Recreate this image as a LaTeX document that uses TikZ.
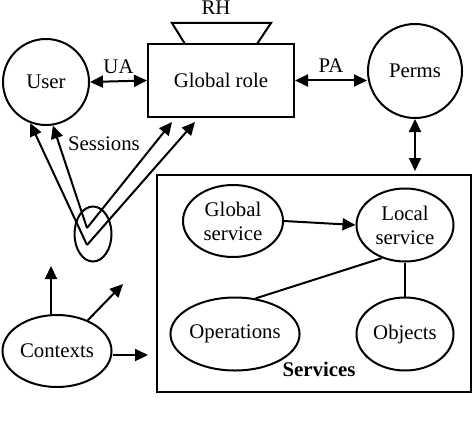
\documentclass[tikz,border=0pt]{standalone}
\usepackage{fontspec}
\setmainfont{Liberation Serif}
\usetikzlibrary{arrows.meta,shapes.geometric}

\begin{document}
\begin{tikzpicture}[x=0.5pt,y=-0.5pt,line width=1pt,
  font=\fontsize{10.4}{12}\selectfont,
  arr/.style={-{Triangle[length=6.5pt,width=6pt]}},
  darr/.style={{Triangle[length=6.5pt,width=6pt]}-{Triangle[length=6.5pt,width=6pt]}},
  oval/.style={draw,ellipse,inner sep=0pt,align=center}]
\useasboundingbox (0,0) rectangle (474,422);

\def\ya{82}
\def\yb{223}
\def\yc{334}
\def\xl{405}

% top row
\node[draw,circle,minimum size=43pt,inner sep=0pt] (user) at (46,\ya) {User};
\node[draw,minimum width=73pt,minimum height=36.5pt] (grole) at (221,80.5) {Global role};
\node[draw,circle,minimum size=47pt,inner sep=0pt] (perms) at (415,71) {Perms};
\draw (185,44) -- (172,23) -- (271,23) -- (257,44);
\node [above] at (216,22) {RH};
\draw[darr] (user.east) -- node[above] {UA} (grole.west);
\draw[darr] (grole.east) -- node[above] {PA} (grole.east -| perms.west);

% services
\node[draw,minimum width=157pt,minimum height=108.5pt] (box) at (314,283.5) {};
\node[oval,minimum width=50pt,minimum height=36pt] (gserv) at (233,221) {Global\\service};
\node[oval,minimum width=48.5pt,minimum height=36.5pt] (lserv) at (\xl,225) {Local\\service};
\node[oval,minimum width=61.5pt,minimum height=36.5pt] (ops) at (235,\yc) {Operations};
\node[oval,minimum width=48.5pt,minimum height=36.5pt] (objs) at (\xl,\yc) {Objects};
\node at (319,369) {\bfseries Services};
\draw[arr] (gserv.east) -- (lserv.west);
\draw (lserv.235) -- (ops.60);
\draw (lserv.south) -- (objs.north);
\draw[darr] (perms.south) -- ([yshift=1.5pt]perms.south |- box.north);

% sessions
\node[oval,minimum width=18.5pt,minimum height=27.5pt] (sess) at (93,234) {};
\coordinate (va) at (87,228);
\coordinate (vb) at (87,245);
\coordinate (ga) at (172,122);
\coordinate (gb) at (195,122);
\draw[arr] (va) -- (user.279);
\draw[arr] (vb) -- (user.249);
\draw[arr] (va) -- (ga);
\draw[arr] (vb) -- (gb);
\node at (104,144) {Sessions};

% contexts
\node[oval,minimum width=54.5pt,minimum height=36pt] (ctx) at (57,351) {Contexts};
\coordinate (cup) at (51,266);
\coordinate (cdiag) at (123,284);
\coordinate (cright) at (148,355);
\draw[arr] (cup |- ctx.north) -- (cup);
\draw[arr] (ctx.45) -- (cdiag);
\draw[arr] (cright -| ctx.east) -- (cright);
\end{tikzpicture}
\end{document}
